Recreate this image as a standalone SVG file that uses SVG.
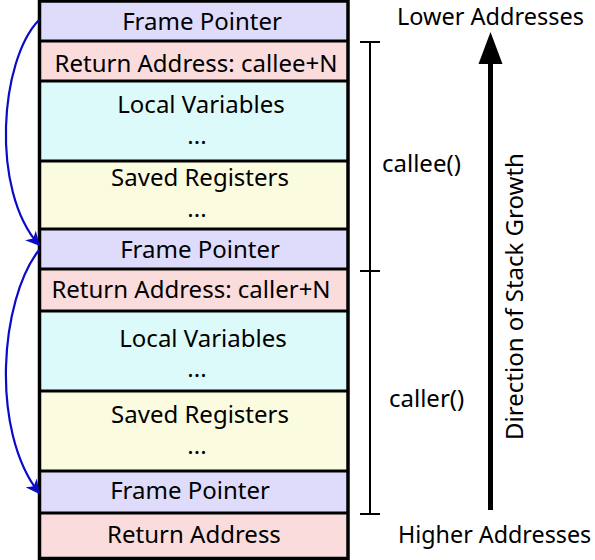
<svg xmlns="http://www.w3.org/2000/svg" width="595" height="560" viewBox="0 0 595 560">
<defs>
<style>
text{font-family:"Noto Sans","Open Sans","DejaVu Sans",sans-serif;font-size:24px;fill:#000}
.c{text-anchor:middle}
.fp{fill:#dedcfa}
.ra{fill:#fadcdc}
.lv{fill:#dcfafa}
.sr{fill:#fbfbe0}
.sep{stroke:#000;stroke-width:3}
.br{stroke:#000;stroke-width:2;fill:none}
.lnk{stroke:#0a0ac8;stroke-width:2.2;fill:none;marker-end:url(#ah)}
</style>
<marker id="ah" viewBox="0 0 10 10" refX="9" refY="5" markerWidth="6.5" markerHeight="6.5" orient="auto" markerUnits="strokeWidth">
<path d="M0,0 L10,5 L0,10 L3,5 Z" fill="#0a0ac8"/>
</marker>
</defs>
<rect x="0" y="0" width="595" height="560" fill="#fff"/>
<g id="frame-callee">
<g id="fp1"><rect class="fp" x="40" y="1" width="307" height="40"/><text class="c" x="202" y="30">Frame Pointer</text></g>
<g id="ra1"><rect class="ra" x="40" y="41" width="307" height="40"/><text class="c" x="196" y="72">Return Address: callee+N</text></g>
<g id="lv1"><rect class="lv" x="40" y="81" width="307" height="80"/><text class="c" x="201" y="113">Local Variables</text><text class="c" x="197" y="144">...</text></g>
<g id="sr1"><rect class="sr" x="40" y="161" width="307" height="68"/><text class="c" x="200" y="186">Saved Registers</text><text class="c" x="197" y="217">...</text></g>
<g id="fp2"><rect class="fp" x="40" y="229" width="307" height="40"/><text class="c" x="200" y="258">Frame Pointer</text></g>
</g>
<g id="frame-caller">
<g id="ra2"><rect class="ra" x="40" y="269" width="307" height="42"/><text class="c" x="191" y="298">Return Address: caller+N</text></g>
<g id="lv2"><rect class="lv" x="40" y="311" width="307" height="80"/><text class="c" x="203" y="347">Local Variables</text><text class="c" x="197" y="377">...</text></g>
<g id="sr2"><rect class="sr" x="40" y="391" width="307" height="80"/><text class="c" x="200" y="423">Saved Registers</text><text class="c" x="197" y="454">...</text></g>
<g id="fp3"><rect class="fp" x="40" y="471" width="307" height="42"/><text class="c" x="190" y="499">Frame Pointer</text></g>
<g id="ra3"><rect class="ra" x="40" y="513" width="307" height="45"/><text class="c" x="194" y="543">Return Address</text></g>
</g>
<g id="separators">
<line class="sep" x1="40" y1="41" x2="348" y2="41"/>
<line class="sep" x1="40" y1="81" x2="348" y2="81"/>
<line class="sep" x1="40" y1="161" x2="348" y2="161"/>
<line class="sep" x1="40" y1="229" x2="348" y2="229"/>
<line class="sep" x1="40" y1="269" x2="348" y2="269"/>
<line class="sep" x1="40" y1="311" x2="348" y2="311"/>
<line class="sep" x1="40" y1="391" x2="348" y2="391"/>
<line class="sep" x1="40" y1="471" x2="348" y2="471"/>
<line class="sep" x1="40" y1="513" x2="348" y2="513"/>
<rect x="39.5" y="1" width="308.5" height="557.5" fill="none" stroke="#000" stroke-width="3.5"/>
</g>
<g id="connectors">
<path class="lnk" d="M39,20 C0,60 -10,190 39,245"/>
<path class="lnk" d="M39,250 C0,300 -10,430 39,493"/>
</g>
<g id="brackets">
<path class="br" d="M360,42 H380 M370,42 V271 M360,271 H380 M370,271 V514 M360,514 H380"/>
<text x="382" y="172">callee()</text>
<text x="389" y="407">caller()</text>
</g>
<g id="growth">
<line x1="490.5" y1="510" x2="490.5" y2="64" stroke="#000" stroke-width="5"/>
<path d="M478.5,64 L502.5,64 L490.5,32 Z" fill="#000"/>
<text class="c" transform="translate(523,296.5) rotate(-90)">Direction of Stack Growth</text>
<text x="397" y="25" style="font-size:23.5px">Lower Addresses</text>
<text x="398" y="543" style="font-size:23.3px">Higher Addresses</text>
</g>
</svg>
